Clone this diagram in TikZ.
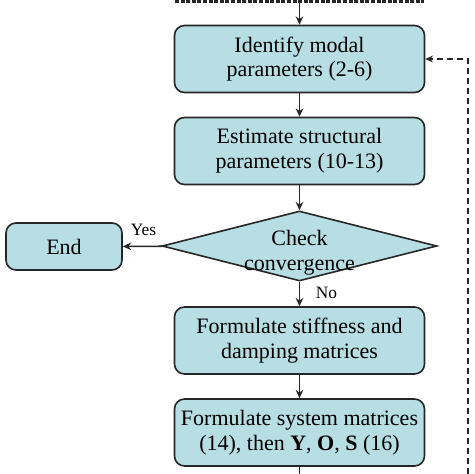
\documentclass[tikz,border=0pt]{standalone}
\usepackage{fontspec}
\setmainfont{Liberation Serif}
\usetikzlibrary{arrows.meta,positioning,shapes.geometric}
\definecolor{boxTeal}{RGB}{182,222,227}
\definecolor{inkDark}{RGB}{38,38,38}
\tikzset{
  flow box/.style={draw=inkDark,fill=boxTeal,rounded corners=7.5pt,line width=1.2pt,align=center,text=black,font=\fontsize{16.5}{18.5}\selectfont,minimum width=187.5pt,minimum height=50.25pt,inner sep=2pt},
  end box/.style={flow box,minimum width=87pt,minimum height=35.25pt},
  check node/.style={diamond,aspect=3.9,draw=inkDark,fill=boxTeal,line width=1.2pt,align=center,text=black,font=\fontsize{16.5}{18.5}\selectfont,minimum width=206pt,minimum height=52.5pt,inner sep=-6pt},
  flow arrow/.style={-{Stealth[length=2.2mm,width=2mm]},line width=1.2pt,draw=inkDark},
  loop arrow/.style={-{Stealth[length=2mm,width=1.8mm]},line width=1pt,draw=inkDark,dash pattern=on 4.5pt off 3pt},
  answer/.style={font=\fontsize{13}{15}\selectfont,text=black,inner sep=0pt}
}
\begin{document}
\begin{tikzpicture}[x=0.75pt,y=-0.75pt]
        \useasboundingbox (0,0) rectangle (474,474);
        \coordinate (prevL) at (175,1.5);
        \coordinate (prevR) at (424,1.5);
        \coordinate (prev) at (299.5,1.5);
        \coordinate (next) at (299.5,474);
        \coordinate (loopB) at (468,474);
        \node[flow box] (modal) at (299.5,59) {Identify modal\\parameters (2-6)};
        \node[flow box] (structural) at (299.5,151) {Estimate structural\\parameters (10-13)};
        \node[check node] (check) at (299.5,246) {\rule{0pt}{22pt}Check\\convergence};
        \node[end box] (done) at (64,246.5) {End};
        \node[flow box] (stiffness) at (299.5,340.5) {Formulate stiffness and\\damping matrices};
        \node[flow box] (system) at (299.5,432.5) {Formulate system matrices\\(14), then \textbf{Y}, \textbf{O}, \textbf{S} (16)};
        \node[answer] (yes) at (143.5,230) {Yes};
        \node[answer] (no) at (326.5,293) {No};
        \draw[line width=1.8pt,draw=inkDark,dash pattern=on 3pt off 1.2pt] (prevL) -- (prevR);
        \draw[flow arrow] (prev) -- (modal);
        \draw[flow arrow] (modal) -- (structural);
        \draw[flow arrow] (structural) -- (check);
        \draw[flow arrow] (check) -- (done);
        \draw[flow arrow] (check) -- (stiffness);
        \draw[flow arrow] (stiffness) -- (system);
        \draw[line width=1.2pt,draw=inkDark] (system) -- (next);
        \draw[loop arrow] (loopB) |- (modal.east);
      \end{tikzpicture}
\end{document}
